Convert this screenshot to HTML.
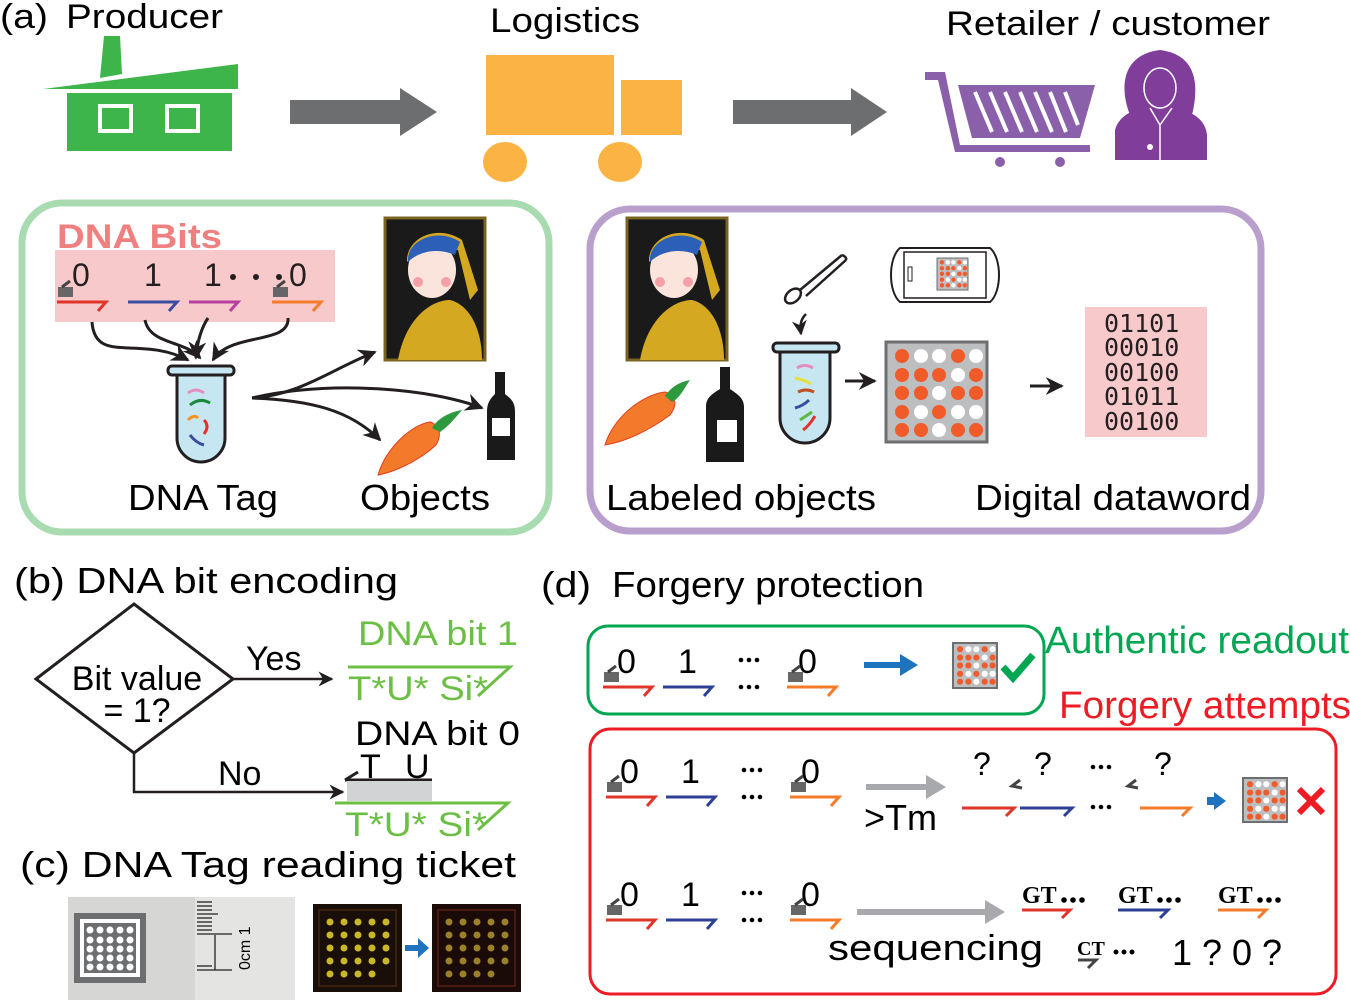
<!DOCTYPE html>
<html><head><meta charset="utf-8"><style>
html,body{margin:0;padding:0;background:#fff}
svg{display:block}
text{font-family:"Liberation Sans",sans-serif}
text.mono{font-family:"DejaVu Sans Mono","Liberation Mono",monospace}
text.ser{font-family:"Liberation Serif",serif}
</style></head><body>
<svg width="1350" height="1000" viewBox="0 0 1350 1000" xmlns="http://www.w3.org/2000/svg">
<defs>
<marker id="ah" viewBox="0 0 10 10" refX="9" refY="5" markerWidth="6" markerHeight="6" orient="auto"><path d="M0 0L10 5L0 10L3 5z" fill="#231f20"/></marker>
<g id="pr"><rect x="0" y="-13" width="15" height="10" fill="#666"/><path d="M4 -13 L12 -19" stroke="#444" stroke-width="3"/></g>
</defs>

<text x="0" y="28" font-size="34" textLength="48" lengthAdjust="spacingAndGlyphs">(a)</text>
<text x="66" y="28" font-size="34" textLength="157" lengthAdjust="spacingAndGlyphs">Producer</text>
<text x="490" y="32" font-size="34" textLength="150" lengthAdjust="spacingAndGlyphs">Logistics</text>
<text x="946" y="35" font-size="34" textLength="324" lengthAdjust="spacingAndGlyphs">Retailer / customer</text>

<polygon points="100,78 104,36 120,36 122,74" fill="#3db54a"/>
<polygon points="43,89 238,64 238,89" fill="#3db54a"/>
<rect x="67" y="93" width="165" height="58" fill="#3db54a"/>
<rect x="100" y="106" width="31" height="25" fill="none" stroke="#fff" stroke-width="4"/>
<rect x="167" y="106" width="31" height="25" fill="none" stroke="#fff" stroke-width="4"/>

<polygon points="290,100 400,100 400,88 437,112 400,136 400,124 290,124" fill="#6d6e70"/>
<polygon points="733,100 851,100 851,88 887,112 851,136 851,124 733,124" fill="#6d6e70"/>

<rect x="486" y="55" width="128" height="80" fill="#fbb444"/>
<rect x="621" y="80" width="61" height="55" fill="#fbb444"/>
<ellipse cx="505" cy="162" rx="22" ry="20" fill="#fbb444"/>
<ellipse cx="620" cy="162" rx="22" ry="20" fill="#fbb444"/>

<g fill="#8a60aa">
<path d="M925 72 L945 72 L960 145 L1090 145 L1090 152 L955 152 L938 80 L925 80z"/>
<path d="M958 85 L1095 85 L1080 138 L972 138z"/>
<circle cx="1000" cy="162" r="5"/><circle cx="1060" cy="162" r="5"/>
</g>
<g stroke="#fff" stroke-width="4">
<line x1="975" y1="92" x2="992" y2="132"/><line x1="990" y1="92" x2="1007" y2="132"/><line x1="1005" y1="92" x2="1022" y2="132"/><line x1="1020" y1="92" x2="1037" y2="132"/><line x1="1035" y1="92" x2="1052" y2="132"/><line x1="1050" y1="92" x2="1066" y2="132"/><line x1="1065" y1="92" x2="1078" y2="125"/>
</g>
<g fill="#803d99">
<path d="M1130 115 C1120 90 1120 55 1160 50 C1200 55 1198 90 1192 115 z"/>
<path d="M1115 160 L1115 130 C1120 112 1140 108 1150 107 L1172 107 C1185 110 1205 115 1207 135 L1207 160z"/>
</g>
<g fill="none" stroke="#fff" stroke-width="1.5">
<ellipse cx="1160" cy="88" rx="16" ry="20"/>
<path d="M1150 108 L1160 125 L1172 108 M1160 125 V160"/>
</g>
<circle cx="1150" cy="147" r="3" fill="#fff"/>

<rect x="22" y="203" width="527" height="329" rx="40" fill="none" stroke="#a8dcb0" stroke-width="7"/>
<text x="57" y="248" font-size="34" font-weight="bold" fill="#f08080" textLength="165" lengthAdjust="spacingAndGlyphs">DNA Bits</text>
<rect x="55" y="250" width="280" height="72" fill="#f8c9cb"/>
<g font-size="32" fill="#231f20"><text x="72" y="286">0</text><text x="144" y="286">1</text><text x="204" y="286">1</text><text x="289" y="286">0</text></g>
<g fill="#231f20"><circle cx="233" cy="277" r="3"/><circle cx="256" cy="277" r="3"/><circle cx="279" cy="277" r="3"/></g>
<g fill="none" stroke-width="3">
<path d="M57 302 H106 L98 311" stroke="#e0342a"/>
<path d="M128 302 H177 L169 311" stroke="#3c4ba0"/>
<path d="M189 302 H238 L230 311" stroke="#b83ea0"/>
<path d="M272 302 H321 L313 311" stroke="#f47b2a"/>
</g>
<use href="#pr" x="58" y="300"/><use href="#pr" x="273" y="300"/>
<g fill="none" stroke="#231f20" stroke-width="3" marker-end="url(#ah)">
<path d="M92 322 C95 365 140 335 188 360"/>
<path d="M145 320 C150 345 185 340 200 358"/>
<path d="M208 318 C200 330 197 345 196 358"/>
<path d="M288 318 C290 345 230 332 213 360"/>
<path d="M252 398 C300 395 330 370 375 352"/>
<path d="M252 398 C330 380 430 388 482 408"/>
<path d="M252 398 C310 400 350 410 380 440"/>
</g>
<path d="M177 375 V438 A24 24 0 0 0 225 438 V375z" fill="#c6e7f1" stroke="#231f20" stroke-width="3"/>
<rect x="168" y="366" width="66" height="9" rx="4" fill="#c6e7f1" stroke="#231f20" stroke-width="3"/>
<g fill="none" stroke-width="3"><path d="M188 393 q8 -6 16 0" stroke="#e48dc0"/><path d="M190 405 q10 -8 20 -2" stroke="#1a8a3a"/><path d="M188 420 q6 -6 10 -2" stroke="#f7941d"/><path d="M204 420 q6 6 0 14" stroke="#e0342a"/><path d="M190 435 q6 8 14 10" stroke="#3c4ba0"/></g>
<g id="paint">
<rect x="385" y="218" width="100" height="142" fill="#1a1a1a" stroke="#7a6420" stroke-width="3"/>
<path d="M398 360 C405 320 430 300 450 300 C470 305 482 330 482 360z" fill="#d4a820"/>
<ellipse cx="432" cy="270" rx="24" ry="28" fill="#fbe4dc"/>
<path d="M407 258 C410 235 440 225 462 240 L478 290 L470 300 L458 250 C440 245 420 250 407 262z" fill="#d4a820"/>
<path d="M408 258 C410 238 440 228 460 242 L455 255 C440 248 420 250 408 262z" fill="#2b5fb8"/>
<circle cx="418" cy="282" r="5" fill="#f4a0a8"/><circle cx="446" cy="282" r="5" fill="#f4a0a8"/>
</g>
<path d="M378 475 C385 450 410 425 430 422 C440 425 442 435 436 445 C420 460 395 472 378 475z" fill="#f37a2a" stroke="#e04020" stroke-width="1"/>
<path d="M432 428 C438 418 450 412 462 410 C455 418 450 425 440 432z" fill="#2e9a3e"/>
<path d="M495 372 h10 v22 c8 6 10 10 10 18 v48 h-28 v-48 c0 -8 2 -12 8 -18z" fill="#1a1a1a"/>
<rect x="492" y="418" width="18" height="18" fill="#fff"/>
<text x="128" y="510" font-size="36" textLength="150" lengthAdjust="spacingAndGlyphs">DNA Tag</text>
<text x="360" y="510" font-size="36" textLength="130" lengthAdjust="spacingAndGlyphs">Objects</text>

<rect x="590" y="209" width="671" height="322" rx="40" fill="none" stroke="#b9a0cc" stroke-width="7"/>
<use href="#paint" x="242" y="0"/>
<path d="M605 445 C612 420 640 395 665 392 C676 395 678 405 670 415 C650 430 625 442 605 445z" fill="#f37a2a" stroke="#e04020"/>
<path d="M665 396 C672 386 680 382 690 380 C683 390 680 398 672 402z" fill="#2e9a3e"/>
<path d="M720 367 h10 v22 c9 6 14 10 14 18 v55 h-38 v-55 c0 -8 4 -12 14 -18z" fill="#1a1a1a"/>
<rect x="717" y="420" width="20" height="22" fill="#fff"/>
<g fill="none" stroke="#231f20" stroke-width="2.5"><path d="M800 290 L842 255 M806 296 L846 260 M842 255 q5 2 4 5"/><ellipse cx="793" cy="296" rx="9" ry="6" transform="rotate(-40 793 296)" fill="#fff"/></g>
<path d="M806 314 C800 320 800 326 801 334" fill="none" stroke="#231f20" stroke-width="2.5" marker-end="url(#ah)"/>
<path d="M780 352 V418 A25 25 0 0 0 830 418 V352z" fill="#c6e7f1" stroke="#231f20" stroke-width="3"/>
<rect x="773" y="343" width="66" height="9" rx="4" fill="#c6e7f1" stroke="#231f20" stroke-width="3"/>
<g fill="none" stroke-width="3"><path d="M797 368 q8 -5 16 0" stroke="#e48dc0"/><path d="M795 378 q10 2 16 6" stroke="#e5e040"/><path d="M798 392 q8 -4 16 0" stroke="#c05020"/><path d="M795 408 q8 -2 14 -8" stroke="#3c4ba0"/><path d="M800 420 q6 -4 12 -8" stroke="#5cb848"/><path d="M803 430 q6 -4 12 -14" stroke="#e0342a"/></g>
<line x1="845" y1="381" x2="875" y2="381" stroke="#231f20" stroke-width="3" marker-end="url(#ah)"/>
<rect x="886" y="342" width="101" height="100" fill="#bcbec0" stroke="#6d6e70" stroke-width="3"/>
<g id="gbig">
<circle cx="902" cy="356" r="7" fill="#f15a29"/><circle cx="921" cy="356" r="7" fill="#fff"/><circle cx="939" cy="356" r="7" fill="#fff"/><circle cx="958" cy="356" r="7" fill="#f15a29"/><circle cx="976" cy="356" r="7" fill="#fff"/>
<circle cx="902" cy="375" r="7" fill="#f15a29"/><circle cx="921" cy="375" r="7" fill="#f15a29"/><circle cx="939" cy="375" r="7" fill="#f15a29"/><circle cx="958" cy="375" r="7" fill="#fff"/><circle cx="976" cy="375" r="7" fill="#f15a29"/>
<circle cx="902" cy="393" r="7" fill="#f15a29"/><circle cx="921" cy="393" r="7" fill="#f15a29"/><circle cx="939" cy="393" r="7" fill="#fff"/><circle cx="958" cy="393" r="7" fill="#f15a29"/><circle cx="976" cy="393" r="7" fill="#f15a29"/>
<circle cx="902" cy="412" r="7" fill="#f15a29"/><circle cx="921" cy="412" r="7" fill="#fff"/><circle cx="939" cy="412" r="7" fill="#f15a29"/><circle cx="958" cy="412" r="7" fill="#fff"/><circle cx="976" cy="412" r="7" fill="#fff"/>
<circle cx="902" cy="430" r="7" fill="#f15a29"/><circle cx="921" cy="430" r="7" fill="#f15a29"/><circle cx="939" cy="430" r="7" fill="#fff"/><circle cx="958" cy="430" r="7" fill="#f15a29"/><circle cx="976" cy="430" r="7" fill="#f15a29"/>
</g>
<path d="M900 248 H990 C1002 258 1002 292 990 302 H900 C888 292 888 258 900 248z" fill="#fff" stroke="#231f20" stroke-width="2"/>
<path d="M904 252 H986 V298 H904z" fill="none" stroke="#231f20" stroke-width="1.5"/>
<rect x="908" y="267" width="4" height="14" fill="none" stroke="#231f20"/>
<rect x="937" y="258" width="31" height="32" fill="#bcbec0" stroke="#6d6e70"/>
<g transform="translate(937 258) scale(0.31) translate(-886 -342)"><use href="#gbig"/></g>
<line x1="1030" y1="386" x2="1062" y2="386" stroke="#231f20" stroke-width="3" marker-end="url(#ah)"/>
<rect x="1085" y="307" width="122" height="130" fill="#f8c9cb"/>
<g font-size="25" fill="#231f20"><text class="mono" x="1104" y="332">01101</text><text class="mono" x="1104" y="356">00010</text><text class="mono" x="1104" y="381">00100</text><text class="mono" x="1104" y="405">01011</text><text class="mono" x="1104" y="430">00100</text></g>
<text x="606" y="510" font-size="36" textLength="270" lengthAdjust="spacingAndGlyphs">Labeled objects</text>
<text x="975" y="510" font-size="36" textLength="276" lengthAdjust="spacingAndGlyphs">Digital dataword</text>

<text x="14" y="593" font-size="36" textLength="384" lengthAdjust="spacingAndGlyphs">(b) DNA bit encoding</text>
<polygon points="36,679 134,604 233,679 134,753" fill="none" stroke="#231f20" stroke-width="3"/>
<text x="137" y="690" font-size="34" text-anchor="middle">Bit value</text>
<text x="137" y="722" font-size="34" text-anchor="middle">= 1?</text>
<line x1="233" y1="679" x2="332" y2="679" stroke="#231f20" stroke-width="2.5" marker-end="url(#ah)"/>
<text x="246" y="670" font-size="34">Yes</text>
<polyline points="134,753 134,792 343,792" fill="none" stroke="#231f20" stroke-width="2.5" marker-end="url(#ah)"/>
<text x="218" y="785" font-size="34">No</text>
<text x="358" y="645" font-size="34" fill="#6cbf45" textLength="160" lengthAdjust="spacingAndGlyphs">DNA bit 1</text>
<path d="M348 667 H510 L478 696" fill="none" stroke="#6cbf45" stroke-width="3"/>
<text x="348" y="700" font-size="34" fill="#6cbf45" textLength="140" lengthAdjust="spacingAndGlyphs">T*U* Si*</text>
<text x="355" y="745" font-size="34" textLength="165" lengthAdjust="spacingAndGlyphs">DNA bit 0</text>
<text x="360" y="778" font-size="34">T</text><text x="405" y="778" font-size="34">U</text>
<path d="M345 780 H432 M345 780 L358 772" fill="none" stroke="#231f20" stroke-width="3"/>
<rect x="347" y="781" width="85" height="20" fill="#d1d3d4"/>
<path d="M335 803 H508 L478 830" fill="none" stroke="#6cbf45" stroke-width="3"/>
<text x="345" y="836" font-size="34" fill="#6cbf45" textLength="142" lengthAdjust="spacingAndGlyphs">T*U* Si*</text>

<text x="20" y="877" font-size="36" textLength="496" lengthAdjust="spacingAndGlyphs">(c) DNA Tag reading ticket</text>
<rect x="68" y="897" width="227" height="103" fill="#d6d6d4"/>
<rect x="74" y="913" width="72" height="70" fill="#6d6e70"/>
<rect x="80" y="919" width="60" height="58" fill="#fff"/>
<rect x="84" y="923" width="52" height="50" fill="#6d6e70"/>
<g fill="#fff">
<circle cx="90" cy="930" r="3.5"/><circle cx="100" cy="930" r="3.5"/><circle cx="110" cy="930" r="3.5"/><circle cx="120" cy="930" r="3.5"/><circle cx="130" cy="930" r="3.5"/>
<circle cx="90" cy="940" r="3.5"/><circle cx="100" cy="940" r="3.5"/><circle cx="110" cy="940" r="3.5"/><circle cx="120" cy="940" r="3.5"/><circle cx="130" cy="940" r="3.5"/>
<circle cx="90" cy="949" r="3.5"/><circle cx="100" cy="949" r="3.5"/><circle cx="110" cy="949" r="3.5"/><circle cx="120" cy="949" r="3.5"/><circle cx="130" cy="949" r="3.5"/>
<circle cx="90" cy="958" r="3.5"/><circle cx="100" cy="958" r="3.5"/><circle cx="110" cy="958" r="3.5"/><circle cx="120" cy="958" r="3.5"/><circle cx="130" cy="958" r="3.5"/>
<circle cx="90" cy="967" r="3.5"/><circle cx="100" cy="967" r="3.5"/><circle cx="110" cy="967" r="3.5"/><circle cx="120" cy="967" r="3.5"/><circle cx="130" cy="967" r="3.5"/>
</g>
<rect x="195" y="897" width="100" height="103" fill="#e4e4e2"/>
<g stroke="#222" stroke-width="1.3"><line x1="197" y1="902" x2="212" y2="902"/><line x1="197" y1="906" x2="212" y2="906"/><line x1="197" y1="910" x2="212" y2="910"/><line x1="197" y1="914" x2="218" y2="914"/><line x1="197" y1="918" x2="212" y2="918"/><line x1="197" y1="922" x2="212" y2="922"/><line x1="197" y1="926" x2="212" y2="926"/><line x1="197" y1="930" x2="212" y2="930"/><line x1="197" y1="934" x2="232" y2="934"/><line x1="197" y1="966" x2="212" y2="966"/><line x1="197" y1="970" x2="232" y2="970"/><line x1="215" y1="935" x2="215" y2="970"/></g>
<text x="0" y="0" font-size="16" transform="translate(250 970) rotate(-90)">0cm 1</text>
<rect x="313" y="904" width="89" height="88" fill="#1a0f08"/>
<rect x="319" y="910" width="77" height="76" fill="none" stroke="#3a2010" stroke-width="2"/>
<g fill="#c8b828">
<circle cx="330" cy="922" r="3.5"/><circle cx="344" cy="922" r="3.5"/><circle cx="358" cy="922" r="3.5"/><circle cx="372" cy="922" r="3.5"/><circle cx="386" cy="922" r="3.5"/>
<circle cx="330" cy="935" r="3.5"/><circle cx="344" cy="935" r="3.5"/><circle cx="358" cy="935" r="3.5"/><circle cx="372" cy="935" r="3.5"/><circle cx="386" cy="935" r="3.5"/>
<circle cx="330" cy="948" r="3.5"/><circle cx="344" cy="948" r="3.5"/><circle cx="358" cy="948" r="3.5"/><circle cx="372" cy="948" r="3.5"/><circle cx="386" cy="948" r="3.5"/>
<circle cx="330" cy="961" r="3.5"/><circle cx="344" cy="961" r="3.5"/><circle cx="358" cy="961" r="3.5"/><circle cx="372" cy="961" r="3.5"/><circle cx="386" cy="961" r="3.5"/>
<circle cx="330" cy="974" r="3.5"/><circle cx="344" cy="974" r="3.5"/><circle cx="358" cy="974" r="3.5"/><circle cx="372" cy="974" r="3.5"/>
</g>
<polygon points="405,945 418,945 418,938 429,948 418,958 418,951 405,951" fill="#1e73be"/>
<rect x="432" y="904" width="89" height="88" fill="#1a0a08"/>
<rect x="438" y="910" width="77" height="76" fill="none" stroke="#4a1a10" stroke-width="2"/>
<g fill="#9a8028">
<circle cx="449" cy="922" r="3.5"/><circle cx="463" cy="922" r="3.5"/><circle cx="477" cy="922" r="3.5"/><circle cx="491" cy="922" r="3.5"/><circle cx="505" cy="922" r="3.5"/>
<circle cx="449" cy="935" r="3.5"/><circle cx="463" cy="935" r="3.5"/><circle cx="477" cy="935" r="3.5"/><circle cx="491" cy="935" r="3.5"/><circle cx="505" cy="935" r="3.5"/>
<circle cx="449" cy="948" r="3.5"/><circle cx="463" cy="948" r="3.5"/><circle cx="477" cy="948" r="3.5"/><circle cx="491" cy="948" r="3.5"/><circle cx="505" cy="948" r="3.5"/>
<circle cx="449" cy="961" r="3.5"/><circle cx="463" cy="961" r="3.5"/><circle cx="477" cy="961" r="3.5"/><circle cx="491" cy="961" r="3.5"/><circle cx="505" cy="961" r="3.5"/>
<circle cx="449" cy="974" r="3.5"/><circle cx="463" cy="974" r="3.5"/><circle cx="477" cy="974" r="3.5"/><circle cx="491" cy="974" r="3.5"/>
</g>

<text x="541" y="597" font-size="36" textLength="50" lengthAdjust="spacingAndGlyphs">(d)</text>
<text x="612" y="597" font-size="36" textLength="312" lengthAdjust="spacingAndGlyphs">Forgery protection</text>
<rect x="588" y="626" width="456" height="88" rx="20" fill="none" stroke="#00a651" stroke-width="3"/>
<text x="1045" y="653" font-size="38" fill="#00a651" textLength="304" lengthAdjust="spacingAndGlyphs">Authentic readout</text>
<text x="1059" y="718" font-size="38" fill="#ed1c24" textLength="292" lengthAdjust="spacingAndGlyphs">Forgery attempts</text>
<rect x="590" y="729" width="746" height="265" rx="20" fill="none" stroke="#ed1c24" stroke-width="3"/>

<g id="row">
<g font-size="34" fill="#000"><text x="617" y="673">0</text><text x="678" y="673">1</text><text x="798" y="673">0</text></g>
<g fill="#000"><circle cx="741" cy="660" r="2.3"/><circle cx="749" cy="660" r="2.3"/><circle cx="757" cy="660" r="2.3"/><circle cx="741" cy="687" r="2.3"/><circle cx="749" cy="687" r="2.3"/><circle cx="757" cy="687" r="2.3"/></g>
<g fill="none" stroke-width="3">
<path d="M603 687 H652 L644 696" stroke="#e0342a"/>
<path d="M663 687 H712 L704 696" stroke="#2e3f96"/>
<path d="M787 687 H836 L828 696" stroke="#f47b2a"/>
</g>
<use href="#pr" x="604" y="685"/><use href="#pr" x="788" y="685"/>
</g>
<polygon points="864,662 900,662 900,654 918,665 900,676 900,668 864,668" fill="#1e73be"/>
<rect x="953" y="643" width="44" height="45" fill="#bcbec0" stroke="#6d6e70" stroke-width="2"/>
<g transform="translate(953 643) scale(0.44) translate(-886 -342)"><use href="#gbig"/></g>
<path d="M1003 667 L1013 678 L1033 655" fill="none" stroke="#00a651" stroke-width="7"/>

<use href="#row" x="3" y="110"/>
<polygon points="866,784 926,784 926,775 946,787 926,799 926,790 866,790" fill="#a7a9ac"/>
<text x="864" y="830" font-size="36">&gt;Tm</text>
<g font-size="32"><text x="973" y="775">?</text><text x="1034" y="775">?</text><text x="1154" y="775">?</text></g>
<g fill="#000"><circle cx="1093" cy="767" r="2.3"/><circle cx="1101" cy="767" r="2.3"/><circle cx="1109" cy="767" r="2.3"/><circle cx="1093" cy="807" r="2.3"/><circle cx="1101" cy="807" r="2.3"/><circle cx="1109" cy="807" r="2.3"/></g>
<path d="M1022 788 L1012 786 L1020 780 M1138 788 L1128 786 L1136 780" fill="none" stroke="#444" stroke-width="3"/>
<g fill="none" stroke-width="3">
<path d="M962 808 H1014 L1006 816" stroke="#e0342a"/>
<path d="M1020 808 H1072 L1064 816" stroke="#2e3f96"/>
<path d="M1140 808 H1190 L1182 816" stroke="#f47b2a"/>
</g>
<polygon points="1207,797 1214,797 1214,792 1226,801 1214,810 1214,805 1207,805" fill="#1e73be"/>
<rect x="1243" y="778" width="44" height="44" fill="#bcbec0" stroke="#6d6e70" stroke-width="2"/>
<g transform="translate(1243 778) scale(0.44) translate(-886 -342)"><use href="#gbig"/></g>
<path d="M1299 789 L1323 813 M1323 789 L1299 813" stroke="#ed1c24" stroke-width="6"/>

<use href="#row" x="3" y="233"/>
<polygon points="857,909 985,909 985,900 1005,912 985,924 985,915 857,915" fill="#a7a9ac"/>
<text x="828" y="960" font-size="36" textLength="215" lengthAdjust="spacingAndGlyphs">sequencing</text>
<g font-size="24" font-weight="bold"><text class="ser" x="1022" y="903">GT</text><text class="ser" x="1118" y="903">GT</text><text class="ser" x="1218" y="903">GT</text><text class="ser" x="1077" y="955" font-size="20">CT</text></g>
<g fill="#000"><circle cx="1064" cy="900" r="2.8"/><circle cx="1073" cy="900" r="2.8"/><circle cx="1082" cy="900" r="2.8"/><circle cx="1160" cy="900" r="2.8"/><circle cx="1169" cy="900" r="2.8"/><circle cx="1178" cy="900" r="2.8"/><circle cx="1260" cy="900" r="2.8"/><circle cx="1269" cy="900" r="2.8"/><circle cx="1278" cy="900" r="2.8"/><circle cx="1116" cy="952" r="2.5"/><circle cx="1124" cy="952" r="2.5"/><circle cx="1132" cy="952" r="2.5"/></g>
<g fill="none" stroke-width="3">
<path d="M1022 910 H1070 L1062 918" stroke="#e0342a"/>
<path d="M1118 910 H1168 L1160 918" stroke="#2e3f96"/>
<path d="M1218 910 H1266 L1258 918" stroke="#f47b2a"/>
<path d="M1078 960 H1096 L1088 968" stroke="#444"/>
</g>
<text x="1172" y="965" font-size="36" textLength="110" lengthAdjust="spacing">1 ? 0 ?</text>
</svg>
</body></html>
